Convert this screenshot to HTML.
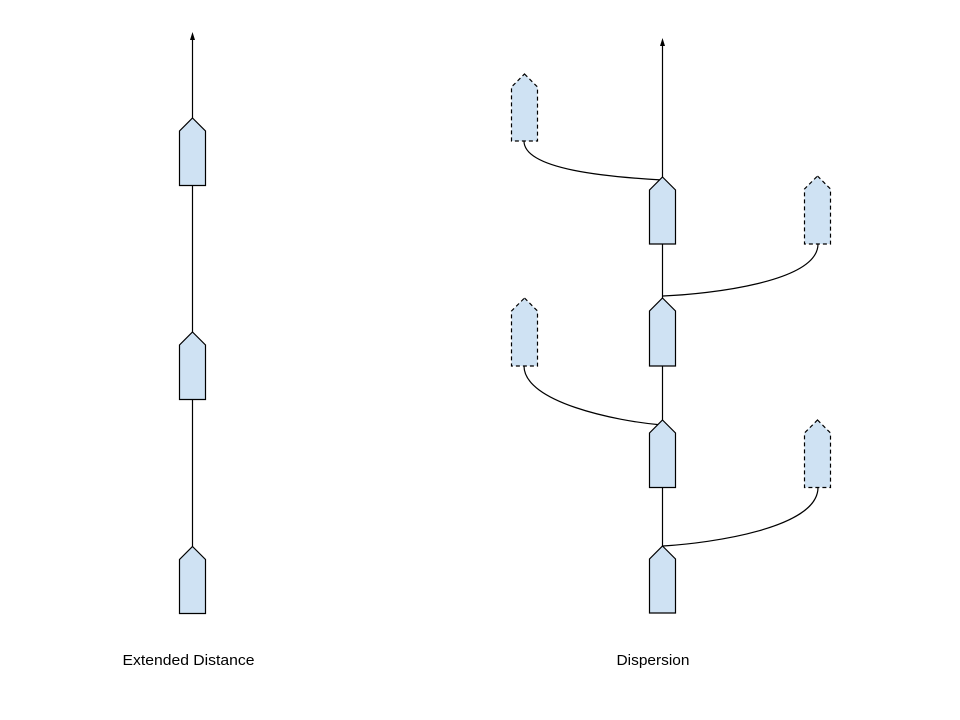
<!DOCTYPE html>
<html>
<head>
<meta charset="utf-8">
<style>
html,body{margin:0;padding:0;background:#fff;}
svg{display:block;}
text{font-family:"Liberation Sans",Arial,sans-serif;font-size:15px;fill:#000;}
</style>
</head>
<body>
<svg width="960" height="720" viewBox="0 0 960 720" xmlns="http://www.w3.org/2000/svg">
<rect width="960" height="720" fill="#fff"/>
<g stroke="#000" stroke-width="1.2" fill="none">
  <!-- left column lines -->
  <line x1="192.5" y1="38" x2="192.5" y2="118"/>
  <line x1="192.5" y1="185.5" x2="192.5" y2="332"/>
  <line x1="192.5" y1="399.5" x2="192.5" y2="546.5"/>
  <!-- right column lines -->
  <line x1="662.5" y1="44" x2="662.5" y2="177"/>
  <line x1="662.5" y1="244" x2="662.5" y2="298"/>
  <line x1="662.5" y1="366" x2="662.5" y2="420"/>
  <line x1="662.5" y1="487.5" x2="662.5" y2="546"/>
  <!-- curves -->
  <path d="M524,141 C524,170 610,177 662,180"/>
  <path d="M818,244 C818,282 710,294 663,296"/>
  <path d="M524,366 C524,402 615,421 662,425"/>
  <path d="M818,487.5 C818,528 712,543 663,546"/>
</g>
<!-- arrowheads -->
<polygon points="192.5,32 190,40 195,40" fill="#000"/>
<polygon points="662.5,38 660,46 665,46" fill="#000"/>

<g fill="#cfe2f3" stroke="#000" stroke-width="1.2">
  <!-- left shapes -->
  <polygon points="192.5,118 205.5,131 205.5,185.5 179.5,185.5 179.5,131"/>
  <polygon points="192.5,332 205.5,345 205.5,399.5 179.5,399.5 179.5,345"/>
  <polygon points="192.5,546.5 205.5,559.5 205.5,613.5 179.5,613.5 179.5,559.5"/>
  <!-- right main shapes -->
  <polygon points="662.5,177 675.5,190 675.5,244 649.5,244 649.5,190"/>
  <polygon points="662.5,298 675.5,311 675.5,366 649.5,366 649.5,311"/>
  <polygon points="662.5,420 675.5,433 675.5,487.5 649.5,487.5 649.5,433"/>
  <polygon points="662.5,546 675.5,559 675.5,613 649.5,613 649.5,559"/>
</g>
<g fill="#cfe2f3" stroke="#000" stroke-width="1.2" stroke-dasharray="4,3">
  <polygon points="524.5,74 537.5,87 537.5,141 511.5,141 511.5,87"/>
  <polygon points="817.5,176 830.5,189 830.5,244 804.5,244 804.5,189"/>
  <polygon points="524.5,298 537.5,311 537.5,366 511.5,366 511.5,311"/>
  <polygon points="817.5,420 830.5,433 830.5,487.5 804.5,487.5 804.5,433"/>
</g>

<text x="188.5" y="665" text-anchor="middle" textLength="132" lengthAdjust="spacingAndGlyphs">Extended Distance</text>
<text x="653" y="665" text-anchor="middle" textLength="73" lengthAdjust="spacingAndGlyphs">Dispersion</text>
</svg>
</body>
</html>
